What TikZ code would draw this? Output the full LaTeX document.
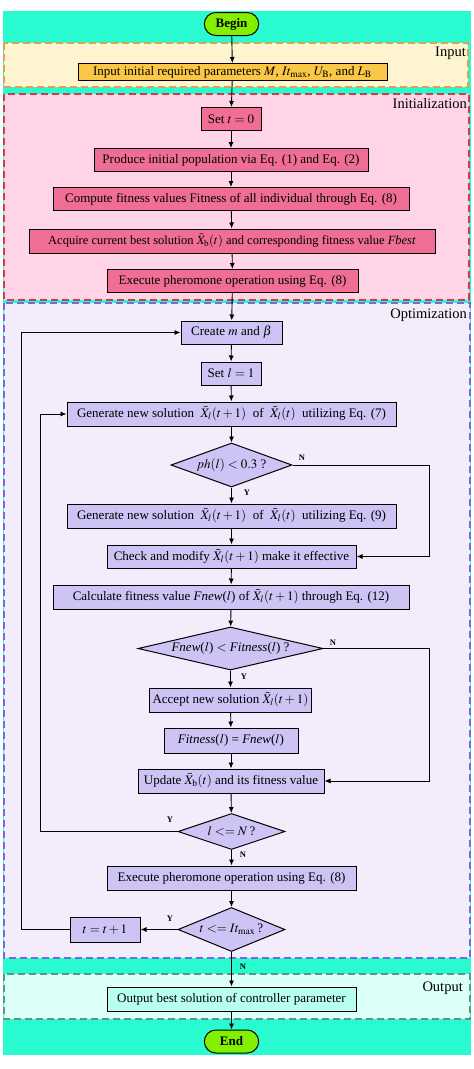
\documentclass[tikz,border=0pt]{standalone}
\usepackage{mathptmx}
\usepackage[no-math]{fontspec}
\setmainfont{Liberation Serif}
\usetikzlibrary{shapes.geometric,shapes.misc,arrows.meta}

\definecolor{bgteal}{RGB}{42,250,208}
\definecolor{inreg}{RGB}{255,244,208}
\definecolor{inedge}{RGB}{225,160,80}
\definecolor{infill}{RGB}{250,200,70}
\definecolor{initreg}{RGB}{255,212,230}
\definecolor{initedge}{RGB}{210,60,70}
\definecolor{initfill}{RGB}{240,110,150}
\definecolor{optreg}{RGB}{243,236,250}
\definecolor{optedge}{RGB}{110,110,220}
\definecolor{optfill}{RGB}{205,195,245}
\definecolor{outreg}{RGB}{220,255,248}
\definecolor{outedge}{RGB}{90,150,140}
\definecolor{outfill}{RGB}{185,255,240}
\definecolor{termfill}{RGB}{130,240,0}

\tikzset{
  boxtext/.style={font=\fontsize{13}{15}\selectfont},
  procbox/.style={boxtext, draw=black, line width=1pt, rectangle, inner xsep=3pt, inner ysep=2pt, minimum height=23pt},
  inbox/.style={procbox, fill=infill},
  initbox/.style={procbox, fill=initfill},
  optbox/.style={procbox, fill=optfill},
  outbox/.style={procbox, fill=outfill},
  decide/.style={boxtext, draw=black, line width=1pt, diamond, fill=optfill, inner sep=0pt},
  term/.style={font=\fontsize{13}{15}\selectfont\bfseries, draw=black, line width=1pt, rounded rectangle, fill=termfill, minimum width=61pt, minimum height=23pt},
  region/.style={line width=1.2pt, dash pattern=on 7pt off 4pt},
  lbl/.style={font=\fontsize{14.5}{16}\selectfont, anchor=east, inner sep=0pt},
  yn/.style={font=\fontsize{8.5}{10}\selectfont\bfseries, inner sep=0pt},
  arr/.style={line width=0.9pt, -{Latex[length=6pt,width=5pt]}}
}

\begin{document}
\begin{tikzpicture}[x=1pt,y=-1pt]
    \useasboundingbox (0,0) rectangle (474,1069);

    % Background and stage regions
    \fill[bgteal] (3,11) rectangle (471,1055);
    \draw[region, fill=inreg, draw=inedge] (4,43) rectangle (468,87);
    \draw[region, fill=initreg, draw=initedge] (4,94) rectangle (469,300);
    \draw[region, fill=optreg, draw=optedge] (4,303) rectangle (470,958);
    \draw[region, fill=outreg, draw=outedge] (4,974) rectangle (470,1019);

    % Region titles
    \node[lbl] (inlbl) at (466,53) {Input};
    \node[lbl] (initlbl) at (467,104) {Initialization};
    \node[lbl] (optlbl) at (467,315) {Optimization};
    \node[lbl] (outlbl) at (463,988) {Output};

    % Begin and input
    \node[term] (begin) at (231.5,24) {Begin};
    \node[inbox, minimum width=309pt, minimum height=17pt, inner ysep=0pt] (input) at (232.5,72)
        {Input initial required parameters $M$, $It_{\mathrm{max}}$, $U_{\mathrm{B}}$, and $L_{\mathrm{B}}$};

    % Initialization
    \node[initbox, minimum width=60pt] (sett) at (231,119) {Set $t=0$};
    \node[initbox, minimum width=274pt] (produce) at (231,160) {Produce initial population via Eq. (1) and Eq. (2)};
    \node[initbox, minimum width=356pt] (compute) at (231,199) {Compute fitness values Fitness of all individual through Eq. (8)};
    \node[initbox, font=\fontsize{12.5}{15}\selectfont, minimum width=406pt, minimum height=24pt] (acquire) at (232,241)
        {Acquire current best solution $\bar{X}_{\mathrm{b}}(t)$ and corresponding fitness value \textit{Fbest}};
    \node[initbox, minimum width=251pt] (exinit) at (232.5,281) {Execute pheromone operation using Eq. (8)};

    % Optimization
    \node[optbox, minimum width=101pt] (create) at (231.5,332.5) {Create $m$ and $\beta$};
    \node[optbox, minimum width=60pt] (setl) at (231,373.5) {Set $l=1$};
    \node[optbox, minimum width=329pt, minimum height=24pt] (gen7) at (231.5,414)
        {Generate new solution \ $\bar{X}_l(t+1)$ \ of \ $\bar{X}_l(t)$ \ utilizing Eq. (7)};
    \node[decide, aspect=2.75, minimum width=121pt, minimum height=44pt] (ph) at (231.5,465) {$ph(l)<0.3$ ?};
    \node[optbox, minimum width=329pt, minimum height=24pt] (gen9) at (231.5,516)
        {Generate new solution \ $\bar{X}_l(t+1)$ \ of \ $\bar{X}_l(t)$ \ utilizing Eq. (9)};
    \node[optbox, minimum width=249pt] (check) at (231.5,556.5) {Check and modify $\bar{X}_l(t+1)$ make it effective};
    \node[optbox, minimum width=356pt, minimum height=24pt] (calc) at (231,597)
        {Calculate fitness value \textit{Fnew}($l$) of $\bar{X}_l(t+1)$ through Eq. (12)};
    \node[decide, aspect=4.3, minimum width=185pt, minimum height=43pt] (fnew) at (230.5,648.5)
        {\textit{Fnew}($l$) $<$ \textit{Fitness}($l$) ?};
    \node[optbox, minimum width=153pt, minimum height=24pt] (accept) at (230.5,700) {Accept new solution $\bar{X}_l(t+1)$};
    \node[optbox, minimum width=134pt, minimum height=25pt] (fit) at (231,740.5) {\textit{Fitness}($l$) = \textit{Fnew}($l$)};
    \node[optbox, minimum width=186pt, minimum height=24pt] (update) at (231,781) {Update $\bar{X}_{\mathrm{b}}(t)$ and its fitness value};
    \node[decide, aspect=3, minimum width=107pt, minimum height=36pt] (ln) at (231.5,831.5) {$l<=N$\,?};
    \node[optbox, minimum width=249pt, minimum height=24pt] (exopt) at (231.5,878) {Execute pheromone operation using Eq. (8)};
    \node[decide, aspect=2.4, minimum width=107pt, minimum height=44pt] (tit) at (231.5,929.5) {$t<=It_{\mathrm{max}}$\,?};
    \node[optbox, minimum width=70pt, minimum height=25pt] (tinc) at (105,929.5) {$t=t+1$};

    % Output and end
    \node[outbox, minimum width=249pt, minimum height=24pt] (outbest) at (231.5,999) {Output best solution of controller parameter};
    \node[term] (finish) at (231.5,1041.5) {End};

    % Jog points for the side lines
    \coordinate (rjog) at (429,0);
    \coordinate (ljogin) at (40,0);
    \coordinate (ljogout) at (21,0);

    % Main flow
    \draw[arr] (begin) -- (input);
    \draw[arr] (input) -- (sett);
    \draw[arr] (sett) -- (produce);
    \draw[arr] (produce) -- (compute);
    \draw[arr] (compute) -- (acquire);
    \draw[arr] (acquire) -- (exinit);
    \draw[arr] (exinit) -- (create);
    \draw[arr] (create) -- (setl);
    \draw[arr] (setl) -- (gen7);
    \draw[arr] (gen7) -- (ph);
    \draw[arr] (ph) -- (gen9);
    \draw[arr] (gen9) -- (check);
    \draw[arr] (check) -- (calc);
    \draw[arr] (calc) -- (fnew);
    \draw[arr] (fnew) -- (accept);
    \draw[arr] (accept) -- (fit);
    \draw[arr] (fit) -- (update);
    \draw[arr] (update) -- (ln);
    \draw[arr] (ln) -- (exopt);
    \draw[arr] (exopt) -- (tit);
    \draw[arr] (tit) -- (outbest);
    \draw[arr] (outbest) -- (finish);

    % Branches
    \draw[arr] (ph.east) -- (ph.east -| rjog) |- (check.east);
    \draw[arr] (fnew.east) -- (fnew.east -| rjog) |- (update.east);
    \draw[arr] (ln.west) -- (ln.west -| ljogin) |- (gen7.west);
    \draw[arr] (tit.west) -- (tinc.east);
    \draw[arr] (tinc.west) -- (tinc.west -| ljogout) |- (create.west);

    % Y / N marks
    \node[yn] (phn) at (302,458) {N};
    \node[yn] (phy) at (247,493) {Y};
    \node[yn] (fnewn) at (333,643) {N};
    \node[yn] (fnewy) at (244,677) {Y};
    \node[yn] (lny) at (170,820) {Y};
    \node[yn] (lnn) at (243,855) {N};
    \node[yn] (tity) at (170,919) {Y};
    \node[yn] (titn) at (243,967) {N};
\end{tikzpicture}
\end{document}
